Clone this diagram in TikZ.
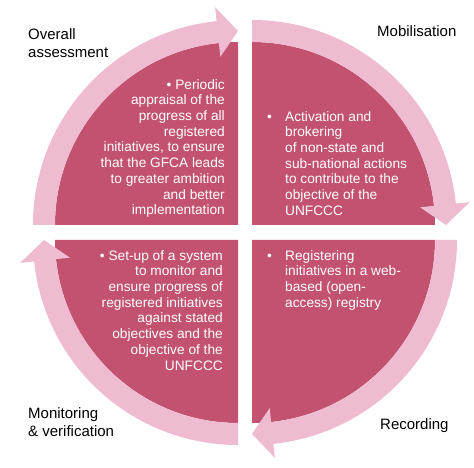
\documentclass[tikz,border=0pt]{standalone}
\usepackage{fontspec}
\setmainfont{Liberation Sans}
\usetikzlibrary{calc}

\definecolor{pieRed}{RGB}{194,82,112}
\definecolor{ringPink}{RGB}{239,187,208}

\begin{document}
\begin{tikzpicture}[x=1pt, y=1pt,
    pie/.style={fill=pieRed},
    ring/.style={fill=ringPink},
    inside/.style={font=\fontsize{13.7}{15.7}\selectfont, text=white,
        inner sep=0pt},
    stage/.style={font=\fontsize{15}{18}\selectfont, text=black,
        inner sep=0pt, align=left},
]
\useasboundingbox (0,0) rectangle (474,468);

% Quadrant corners
\coordinate (tl) at (238,243);
\coordinate (tr) at (252,243);
\coordinate (bl) at (238,228);
\coordinate (br) at (252,228);

% Four pie slices
\fill[pie] (tl) -- ++(180:183) arc[start angle=180, end angle=90, radius=183] -- cycle;
\fill[pie] (tr) -- ++(90:183) arc[start angle=90, end angle=0, radius=183] -- cycle;
\fill[pie] (br) -- ++(0:183) arc[start angle=0, end angle=-90, radius=183] -- cycle;
\fill[pie] (bl) -- ++(270:183) arc[start angle=270, end angle=180, radius=183] -- cycle;

% Circular arrows round the slices
\fill[ring, shift={(tl)}] (180:205) arc[start angle=180, end angle=96, radius=205]
    -- (96:219) -- (90:194) -- (96:169) -- (96:183)
    arc[start angle=96, end angle=180, radius=183] -- cycle;
\fill[ring, shift={(tr)}] (90:205) arc[start angle=90, end angle=6, radius=205]
    -- (6:219) -- (0:194) -- (6:169) -- (6:183)
    arc[start angle=6, end angle=90, radius=183] -- cycle;
\fill[ring, shift={(br)}] (0:205) arc[start angle=0, end angle=-84, radius=205]
    -- (-84:219) -- (-90:194) -- (-84:169) -- (-84:183)
    arc[start angle=-84, end angle=0, radius=183] -- cycle;
\fill[ring, shift={(bl)}] (270:205) arc[start angle=270, end angle=186, radius=205]
    -- (186:219) -- (180:194) -- (186:169) -- (186:183)
    arc[start angle=186, end angle=270, radius=183] -- cycle;

% Texts inside the slices
\node[inside, align=right, anchor=north east] (assessTxt) at (225,389)
    {• Periodic\\appraisal of the\\progress of all\\registered\\
     initiatives, to ensure\\that the GFCA leads\\to greater ambition\\
     and better\\implementation};
\node[inside, align=left, anchor=north west] (mobilTxt) at (267,357)
    {\makebox[18pt][l]{•}Activation and\\\hspace*{18pt}brokering\\
     \hspace*{18pt}of non-state and\\\hspace*{18pt}sub-national actions\\
     \hspace*{18pt}to contribute to the\\\hspace*{18pt}objective of the\\
     \hspace*{18pt}UNFCCC};
\node[inside, align=right, anchor=north east] (monitorTxt) at (223,218)
    {• Set-up of a system\\to monitor and\\ensure progress of\\
     registered initiatives\\against stated\\objectives and the\\
     objective of the\\UNFCCC};
\node[inside, align=left, anchor=north west] (recordTxt) at (267,218)
    {\makebox[18pt][l]{•}Registering\\\hspace*{18pt}initiatives in a web-\\
     \hspace*{18pt}based (open-\\\hspace*{18pt}access) registry};

% Stage labels
\node[stage, anchor=north west] (assess) at (28,440) {Overall\\assessment};
\node[stage, anchor=north west] (mobil) at (377,443) {Mobilisation};
\node[stage, anchor=north west] (monitor) at (28,61) {Monitoring\\\& verification};
\node[stage, anchor=north west] (record) at (380,50) {Recording};

\end{tikzpicture}
\end{document}
